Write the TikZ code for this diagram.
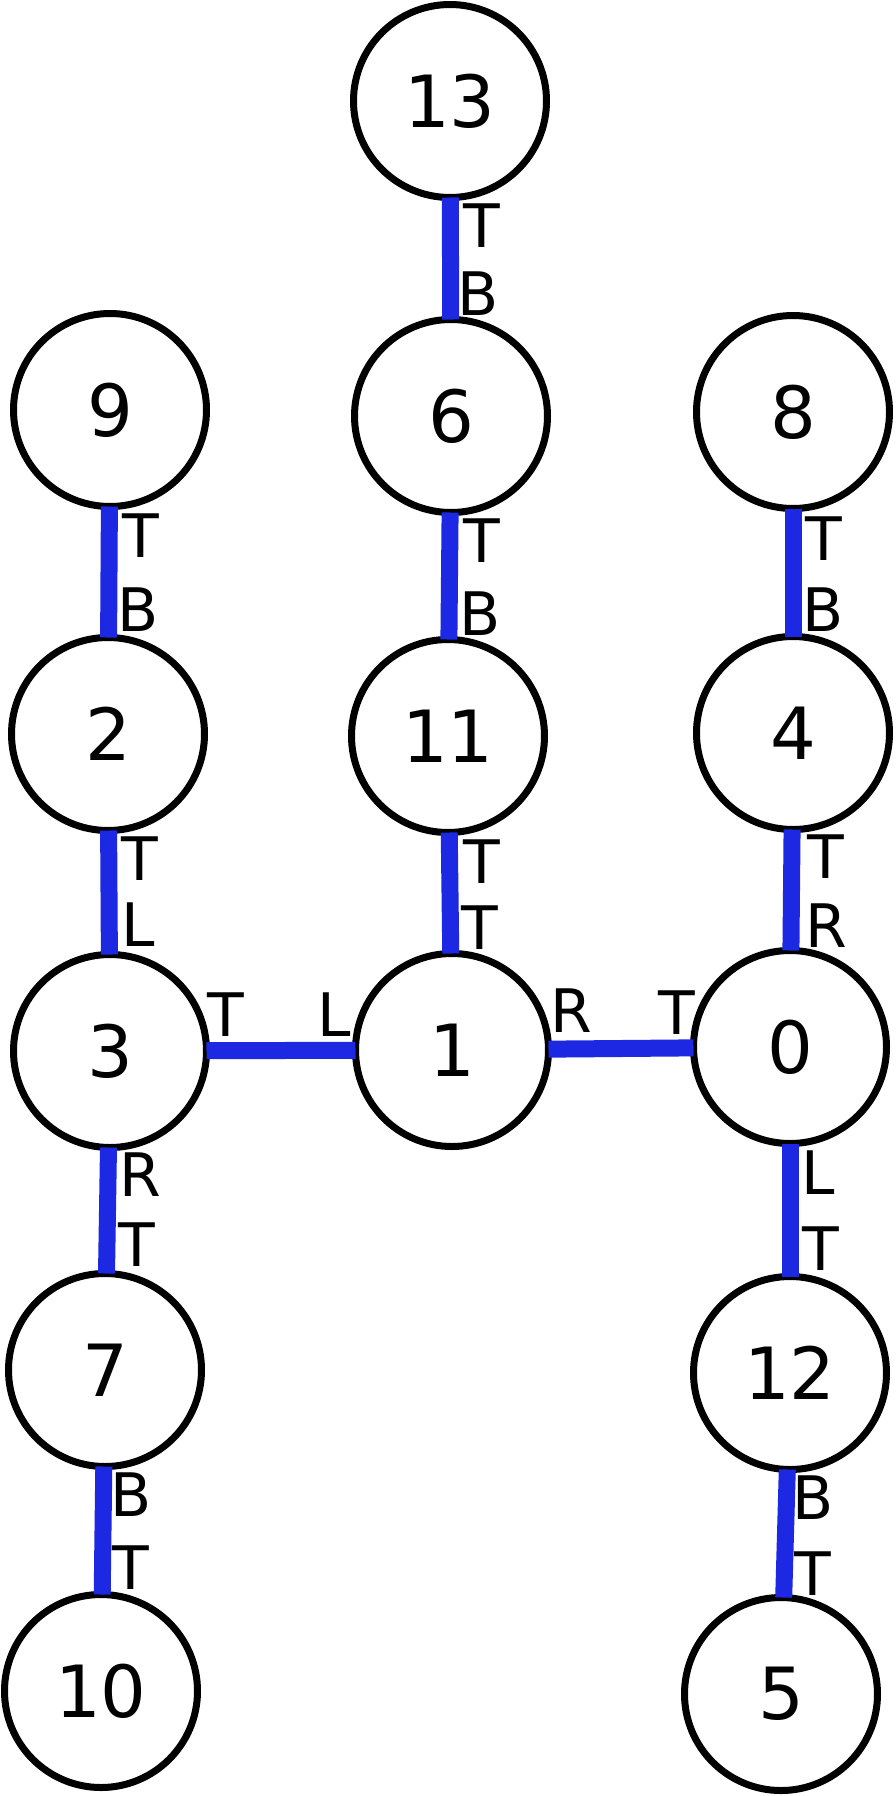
\documentclass[tikz,border=0pt]{standalone}
\usepackage{fontspec}
\setmainfont{DejaVu Sans}
\definecolor{edgeblue}{RGB}{28,40,225}
\begin{document}
\begin{tikzpicture}[x=1pt,y=-1pt,
  vnode/.style={circle,draw=black,line width=7pt,minimum size=193pt,inner sep=0pt,outer sep=0pt,
    font=\fontsize{72}{72}\selectfont},
  elink/.style={draw=edgeblue,line width=17pt},
  elab/.style={inner sep=0pt,font=\fontsize{60}{60}\selectfont}]
\useasboundingbox (0,0) rectangle (896,1796);
\node[vnode] (n13) at (450,101) {13};
\node[vnode] (n6)  at (451,416) {6};
\node[vnode] (n9)  at (110,410) {9};
\node[vnode] (n8)  at (793,412) {8};
\node[vnode] (n2)  at (108,734) {2};
\node[vnode] (n11) at (448,736) {11};
\node[vnode] (n4)  at (793,733) {4};
\node[vnode] (n3)  at (110,1051) {3};
\node[vnode] (n1)  at (452,1050) {1};
\node[vnode] (n0)  at (790,1047) {0};
\node[vnode] (n7)  at (105,1370) {7};
\node[vnode] (n12) at (790,1373) {12};
\node[vnode] (n10) at (101,1691) {10};
\node[vnode] (n5)  at (781,1694) {5};

\draw[elink] (n13) -- (n6);
\draw[elink] (n9) -- (n2);
\draw[elink] (n6) -- (n11);
\draw[elink] (n8) -- (n4);
\draw[elink] (n2) -- (n3);
\draw[elink] (n11) -- (n1);
\draw[elink] (n4) -- (n0);
\draw[elink] (n3) -- (n1);
\draw[elink] (n1) -- (n0);
\draw[elink] (n3) -- (n7);
\draw[elink] (n0) -- (n12);
\draw[elink] (n7) -- (n10);
\draw[elink] (n12) -- (n5);

\node[elab] (l1) at (482,226) {T};
\node[elab] (l2) at (478,294) {B};
\node[elab] (l3) at (141,536) {T};
\node[elab] (l4) at (138,610) {B};
\node[elab] (l5) at (482,541) {T};
\node[elab] (l6) at (480,614) {B};
\node[elab] (l7) at (824,539) {T};
\node[elab] (l8) at (823,610) {B};
\node[elab] (l9) at (140,859) {T};
\node[elab] (l10) at (138,925) {L};
\node[elab] (l11) at (482,862) {T};
\node[elab] (l12) at (480,928) {T};
\node[elab] (l13) at (826,857) {T};
\node[elab] (l14) at (826,926) {R};
\node[elab] (l15) at (226,1015) {T};
\node[elab] (l16) at (334,1015) {L};
\node[elab] (l17) at (571,1011) {R};
\node[elab] (l18) at (677,1013) {T};
\node[elab] (l19) at (140,1175) {R};
\node[elab] (l20) at (137,1245) {T};
\node[elab] (l21) at (818,1173) {L};
\node[elab] (l22) at (821,1249) {T};
\node[elab] (l23) at (131,1495) {B};
\node[elab] (l24) at (131,1568) {T};
\node[elab] (l25) at (813,1498) {B};
\node[elab] (l26) at (813,1574) {T};
\end{tikzpicture}
\end{document}
